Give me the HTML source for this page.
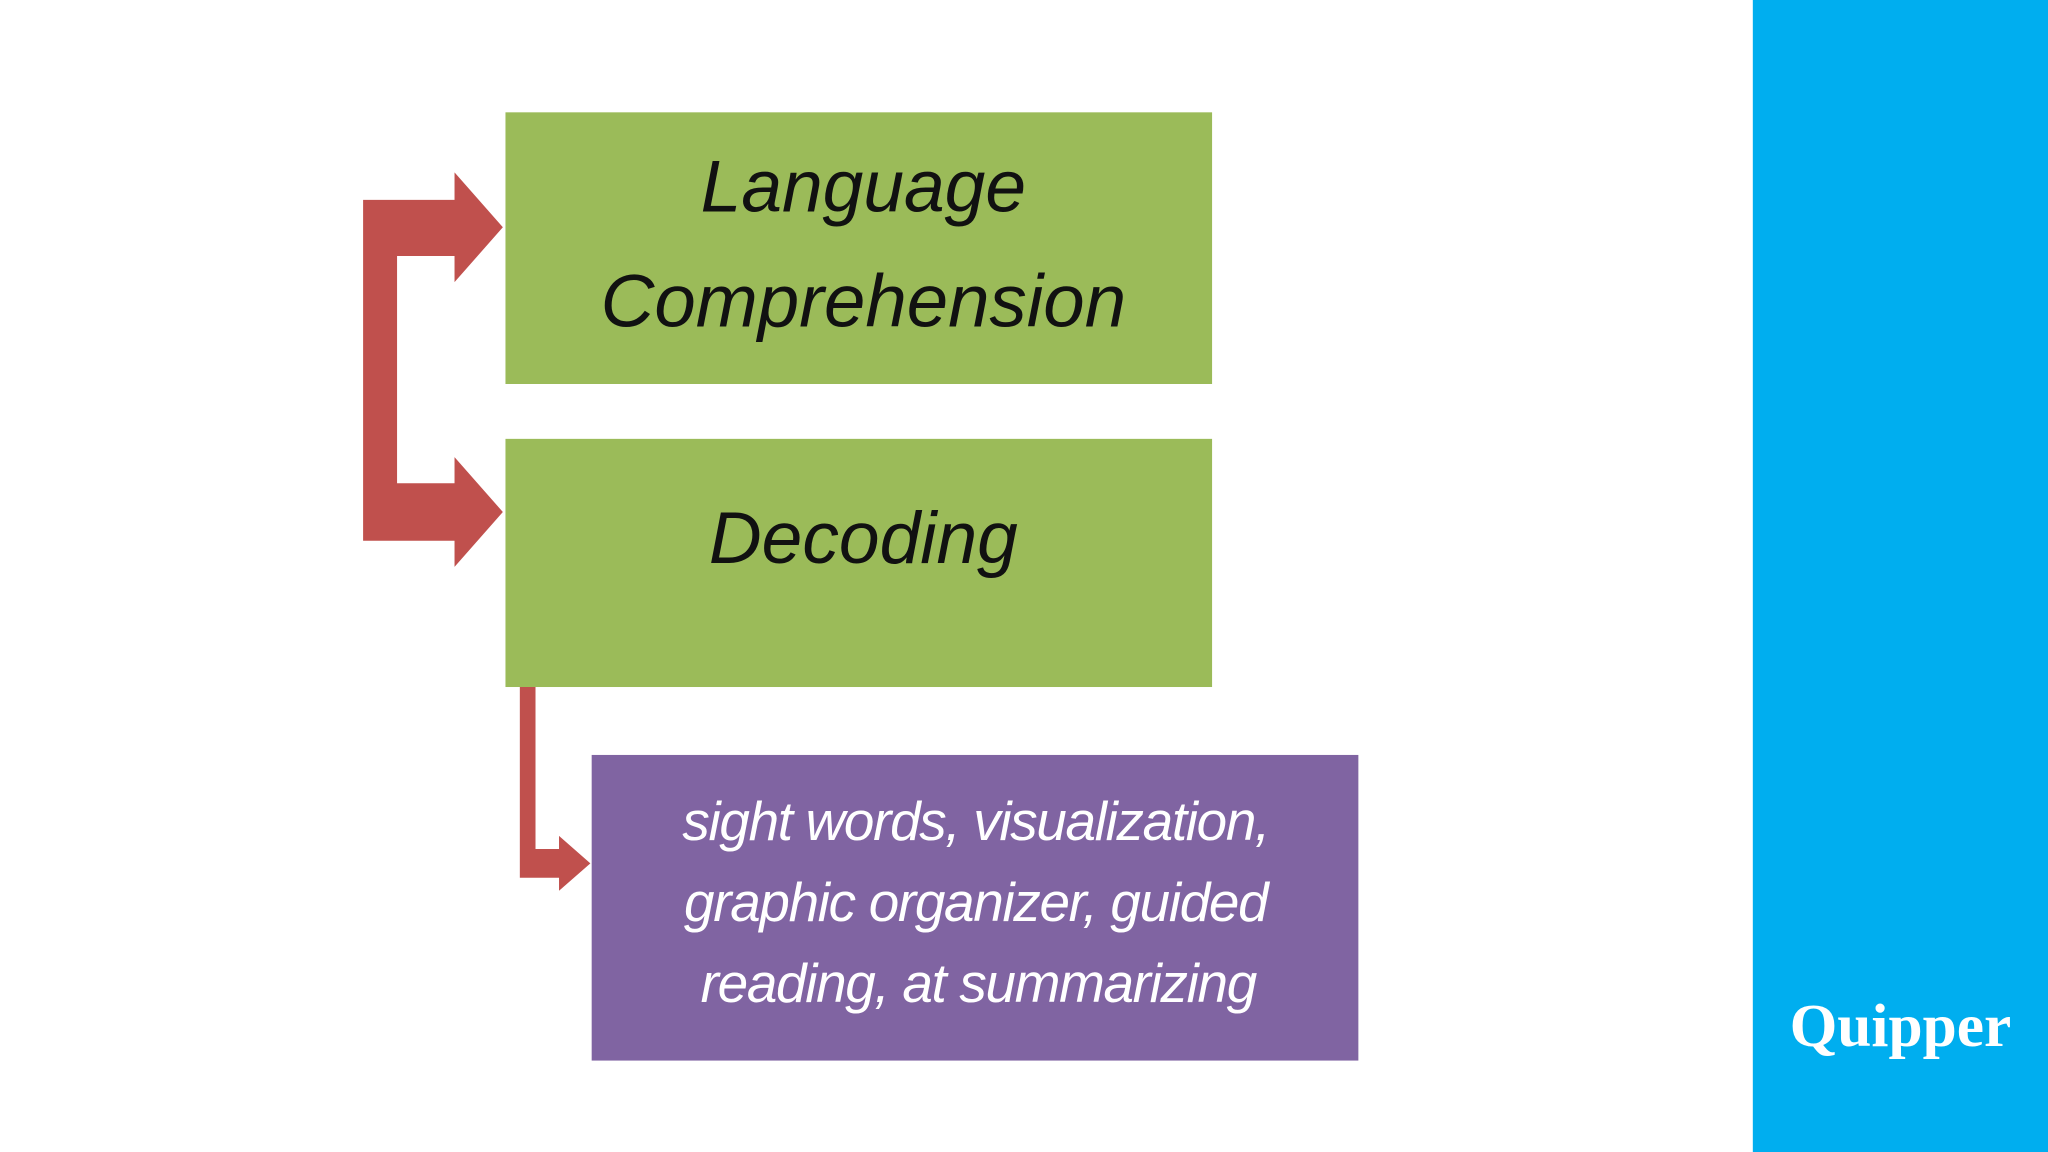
<!DOCTYPE html>
<html><head><meta charset="utf-8"><style>
html,body{margin:0;padding:0;background:#fff;width:2048px;height:1152px;overflow:hidden}
</style></head><body>
<svg width="2048" height="1152" viewBox="0 0 1568 882" xmlns="http://www.w3.org/2000/svg">
<rect x="0" y="0" width="1568" height="882" fill="#fff"/>
<rect x="1342" y="0" width="226" height="882" fill="#00aeef"/>
<text x="1455" y="801" font-family="Liberation Serif, serif" font-weight="bold" font-size="47" fill="#fff" text-anchor="middle">Quipper</text>
<rect x="387" y="86" width="541" height="208" fill="#9bbb59"/>
<rect x="387" y="336" width="541" height="190" fill="#9bbb59"/>
<rect x="453" y="578" width="587" height="234" fill="#8064a2"/>
<path d="M278 153 H348 V132 L385 174 L348 216 V196 H304 V370 H348 V350 L385 392 L348 434 V414 H278 Z" fill="#c0504d"/>
<path d="M398 526 H410 V650 H428 V640 L452 661 L428 682 V672 H398 Z" fill="#c0504d"/>
<g font-family="Liberation Sans, sans-serif" font-style="italic" text-anchor="middle">
<text x="661" y="162" font-size="56" fill="#111">Language</text>
<text x="661" y="250" font-size="57" fill="#111">Comprehension</text>
<text x="661" y="431" font-size="56" fill="#111">Decoding</text>
<g font-size="42" fill="#fff" letter-spacing="-1">
<text x="747" y="643">sight words, visualization,</text>
<text x="747" y="705">graphic organizer, guided</text>
<text x="749" y="767">reading, at summarizing</text>
</g>
</g>
</svg>
</body></html>
